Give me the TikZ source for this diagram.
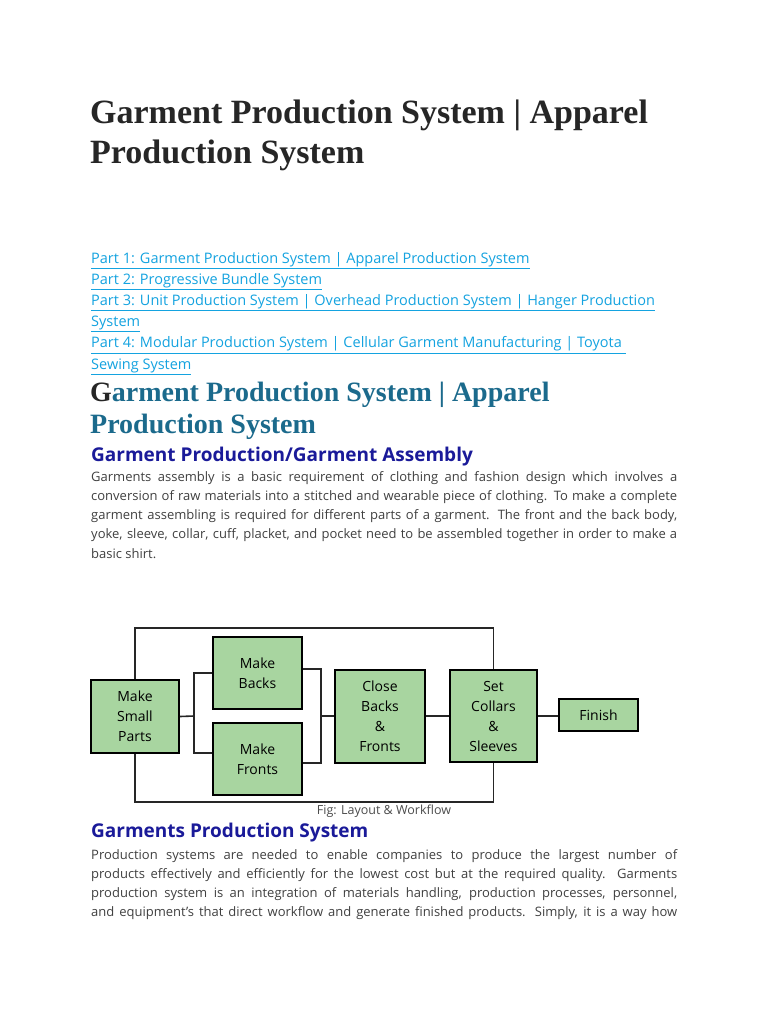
\documentclass[tikz,border=0pt]{standalone}
\usepackage{fontspec}
\setmainfont{Open Sans}
\newfontfamily\serifb{Liberation Serif}
\begin{document}
\begin{tikzpicture}[x=1pt,y=-1pt,
  box/.style={draw=black,line width=1.8pt,fill=boxgreen,align=center,inner sep=0pt,font=\fontsize{14}{20}\selectfont},
  wire/.style={line width=1.6pt,black!85},
  txt/.style={anchor=west,inner sep=0pt,font=\fontsize{13}{19}\selectfont,text=black!75},
  lnk/.style={anchor=west,inner sep=0pt,font=\fontsize{14.5}{20}\selectfont,text=linkc}]
\definecolor{boxgreen}{HTML}{A8D5A0}
\definecolor{linkc}{HTML}{14A3E0}
\definecolor{teal2}{HTML}{1B6A8C}
\definecolor{navy}{HTML}{1A1A99}
\useasboundingbox[fill=white] (0,0) rectangle (768,1024);
% titles
\node[anchor=west,inner sep=0pt,font=\serifb\bfseries\fontsize{34}{40}\selectfont,text=black!85] (t1) at (90,115) {Garment Production System | Apparel};
\node[anchor=west,inner sep=0pt,font=\serifb\bfseries\fontsize{34}{40}\selectfont,text=black!85] (t2) at (90,155) {Production System};
% links
\node[lnk] (l1) at (91,261) {\underline{Part 1: Garment Production System | Apparel Production System}};
\node[lnk] (l2) at (91,282) {\underline{Part 2: Progressive Bundle System}};
\node[lnk] (l3) at (91,303) {\underline{Part 3: Unit Production System | Overhead Production System | Hanger Production}};
\node[lnk] (l4) at (91,324) {\underline{System}};
\node[lnk] (l5) at (91,345) {\underline{Part 4: Modular Production System | Cellular Garment Manufacturing | Toyota }};
\node[lnk] (l6) at (91,367) {\underline{Sewing System}};
% heading 2
\node[anchor=west,inner sep=0pt,font=\serifb\bfseries\fontsize{28}{32}\selectfont,text=teal2] (h1) at (90,395) {{\color{black!85}G}arment Production System | Apparel};
\node[anchor=west,inner sep=0pt,font=\serifb\bfseries\fontsize{28}{32}\selectfont,text=teal2] (h2) at (90,427) {Production System};
\node[anchor=west,inner sep=0pt,font=\bfseries\fontsize{19}{22}\selectfont,text=navy] (h3) at (91,457) {Garment Production/Garment Assembly};
\node[txt] (p1) at (91,478) {\makebox[586pt][s]{Garments assembly is a basic requirement of clothing and fashion design which involves a}};
\node[txt] (p2) at (91,497) {\makebox[586pt][s]{conversion of raw materials into a stitched and wearable piece of clothing. To make a complete}};
\node[txt] (p3) at (91,516) {\makebox[586pt][s]{garment assembling is required for different parts of a garment. The front and the back body,}};
\node[txt] (p4) at (91,535) {\makebox[586pt][s]{yoke, sleeve, collar, cuff, placket, and pocket need to be assembled together in order to make a}};
\node[txt] (p5) at (91,554) {basic shirt.};
% diagram
\node[box,minimum width=88pt,minimum height=73pt] (sm) at (135,716.5) {Make\\Small\\Parts};
\node[box,minimum width=89pt,minimum height=72pt] (bk) at (257.5,673) {Make\\Backs};
\node[box,minimum width=89pt,minimum height=72pt] (fr) at (257.5,759) {Make\\Fronts};
\node[box,minimum width=90pt,minimum height=93pt] (cl) at (380,716.5) {Close\\Backs\\\&\\Fronts};
\node[box,minimum width=87pt,minimum height=92pt] (st) at (493.5,716) {Set\\Collars\\\&\\Sleeves};
\node[box,minimum width=79pt,minimum height=32pt] (fi) at (598.5,715) {Finish};
\draw[wire] (sm.north) -- (135,628) -| (st.north);
\draw[wire] (sm.south) -- (135,802) -| (st.south);
\draw[wire] (sm.east) -- (194,716);
\draw[wire] (bk.west|-0,673) -| (194,753) -- (fr.west|-0,753);
\draw[wire] (bk.east|-0,669) -| (321,763) -- (fr.east|-0,763);
\draw[wire] (321,716) -- (cl.west|-0,716);
\draw[wire] (cl.east|-0,716) -- (st.west|-0,716);
\draw[wire] (st.east|-0,716) -- (fi.west|-0,716);
\node[font=\fontsize{12.5}{15}\selectfont,text=black!70,inner sep=0pt] (cap) at (384,811) {Fig: Layout \& Workflow};
\node[anchor=west,inner sep=0pt,font=\bfseries\fontsize{19}{22}\selectfont,text=navy] (h4) at (91,833) {Garments Production System};
\node[txt] (q1) at (91,856) {\makebox[586pt][s]{Production systems are needed to enable companies to produce the largest number of}};
\node[txt] (q2) at (91,875) {\makebox[586pt][s]{products effectively and efficiently for the lowest cost but at the required quality. Garments}};
\node[txt] (q3) at (91,894) {\makebox[586pt][s]{production system is an integration of materials handling, production processes, personnel,}};
\node[txt] (q4) at (91,913) {\makebox[586pt][s]{and equipment’s that direct workflow and generate finished products. Simply, it is a way how}};
\end{tikzpicture}
\end{document}
